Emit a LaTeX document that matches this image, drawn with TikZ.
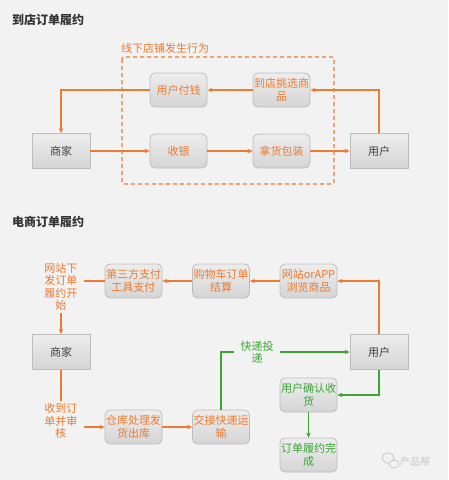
\documentclass[tikz,border=0pt]{standalone}
\usepackage{fontspec}
\setmainfont{Noto Sans CJK SC}
\usetikzlibrary{arrows.meta}
\definecolor{bg}{HTML}{F2F2F2}
\definecolor{org}{HTML}{EE7B30}
\definecolor{grn}{HTML}{3BA634}
\definecolor{bd}{HTML}{BDBDBD}
\definecolor{tx}{HTML}{404040}
\definecolor{ttl}{HTML}{333333}
\definecolor{topc}{HTML}{EDEDED}
\definecolor{botc}{HTML}{D5D5D5}
\definecolor{wm}{HTML}{C9C9C9}
\begin{document}
\begin{tikzpicture}[x=1pt,y=-1pt,
  rbox/.style={draw=bd, line width=0.8pt, rounded corners=5pt, top color=topc, bottom color=botc,
    minimum width=57pt, minimum height=34pt, inner sep=0.5pt, align=center,
    font=\fontsize{11}{12.5}\selectfont, text=org},
  gbox/.style={rbox, text=grn},
  sbox/.style={draw=bd, line width=0.8pt, top color=topc, bottom color=botc,
    minimum width=58pt, minimum height=35pt, inner sep=1pt,
    font=\fontsize{11}{12.5}\selectfont, text=tx},
  lbl/.style={align=center, font=\fontsize{11}{12.5}\selectfont, text=org, inner xsep=6pt, inner ysep=2pt},
  glbl/.style={lbl, text=grn},
  ttlstyle/.style={anchor=west, inner sep=0pt, font=\fontsize{12}{14}\selectfont\bfseries, text=ttl},
  ln/.style={line width=1.2pt, draw=org},
  arr/.style={ln, -{Stealth[length=5pt,width=4.5pt]}},
  gln/.style={line width=1.2pt, draw=grn},
  garr/.style={gln, -{Stealth[length=5pt,width=4.5pt]}}
]
\fill[bg] (0,0) rectangle (448,480);
\useasboundingbox (0,0) rectangle (448,480);

% ---------- top section ----------
\node[ttlstyle] (title1) at (12,20) {到店订单履约};
\draw[org, line width=1.1pt, dash pattern=on 4pt off 3pt, rounded corners=2pt] (122,57) rectangle (334,184);
\node[anchor=west, inner sep=0pt, font=\fontsize{11}{12.5}\selectfont, text=org] (zone) at (121,48) {线下店铺发生行为};

\node[sbox] (s1) at (61,151) {商家};
\node[sbox] (u1) at (379,151) {用户};
\node[rbox] (p1) at (178.5,90) {用户付钱};
\node[rbox] (p2) at (281.5,90) {到店挑选商\\品};
\node[rbox] (p3) at (178.5,151) {收银};
\node[rbox] (p4) at (281.5,151) {拿货包装};

\draw[arr] (u1.north) |- (p2.east);
\draw[arr] (p2) -- (p1);
\draw[arr] (p1.west) -| (s1.north);
\draw[arr] (s1) -- (p3);
\draw[arr] (p3) -- (p4);
\draw[arr] (p4) -- (u1);

% ---------- bottom section ----------
\node[ttlstyle] (title2) at (12,222) {电商订单履约};

\node[sbox] (s2) at (61,352) {商家};
\node[sbox] (u2) at (379,352) {用户};
\node[rbox] (b1) at (133.5,281) {第三方支付\\工具支付};
\node[rbox] (b2) at (221,281) {购物车订单\\结算};
\node[rbox] (b3) at (308.5,281) {网站orAPP\\浏览商品};
\node[rbox] (c1) at (133.5,427) {仓库处理发\\货出库};
\node[rbox] (c2) at (221,427) {交接快递运\\输};
\node[gbox] (d1) at (308.5,395) {用户确认收\\货};
\node[gbox] (d2) at (308.5,455) {订单履约完\\成};

\node[lbl] (t1) at (61,287) {网站下\\发订单\\履约开\\始};
\node[lbl] (t2) at (61,421) {收到订\\单并审\\核};
\node[glbl] (g1) at (257,352) {快递投\\递};

\draw[arr] (u2.north) |- (b3.east);
\draw[arr] (b3) -- (b2);
\draw[arr] (b2) -- (b1);
\draw[ln] (b1.west) -- (b1.west -| t1.east);
\draw[arr] (t1.south) -- (s2.north);
\draw[ln] (s2.south) -- (t2.north);
\draw[arr] (c1.west -| t2.east) -- (c1.west);
\draw[arr] (c1) -- (c2);
\draw[gln] (c2.north) |- (g1.west);
\draw[garr] (g1.east) -- (u2.west);
\draw[garr] (u2.south) |- (d1.east);
\draw[garr] (d1) -- (d2);

% ---------- watermark ----------
\draw[wm, line width=0.8pt, fill=bg] (388,458) ellipse [x radius=6pt, y radius=5pt];
\draw[wm, line width=0.8pt, fill=bg] (394,464) ellipse [x radius=5pt, y radius=4pt];
\node[anchor=west, inner sep=0pt, font=\fontsize{10}{12}\selectfont, text=wm] (wmtext) at (400,462) {产品帮};
\end{tikzpicture}
\end{document}
